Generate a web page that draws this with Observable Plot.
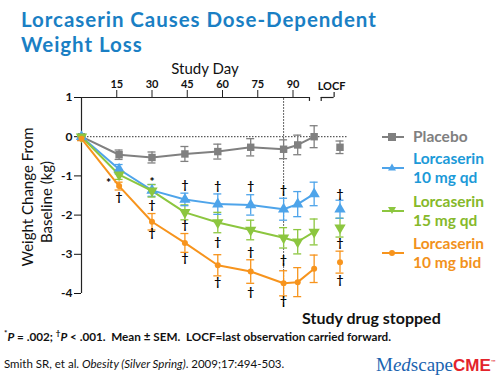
<!DOCTYPE html>
<html><head><meta charset="utf-8">
<script src="https://cdn.jsdelivr.net/npm/d3@7"></script>
<script src="https://cdn.jsdelivr.net/npm/@observablehq/plot@0.6"></script>
<style>
body{margin:0;background:#fff;font-family:Lato,"Open Sans",sans-serif;}
#wrap{position:relative;width:500px;height:375px;overflow:hidden;background:#fff;}
#wrap > div{position:absolute;white-space:nowrap;}
#chart{left:0;top:0;}
.title{left:21px;font-weight:700;font-size:20.5px;letter-spacing:0.95px;color:#1a7fc4;line-height:23px;}
.ylab{font-size:15px;color:#111;transform-origin:center;transform:translate(-50%,-50%) rotate(-90deg);}
.leg{font-weight:700;font-size:15.5px;line-height:19px;}
</style></head><body>
<div id="wrap">
  <div id="chart"></div>
  <div class="title" style="top:8px;">Lorcaserin Causes Dose-Dependent</div>
  <div class="title" style="top:33px;">Weight Loss</div>
  <div style="left:205px;top:68px;transform:translate(-50%,-50%);font-size:15px;color:#111;">Study Day</div>
  <div class="ylab" style="left:27px;top:197px;">Weight Change From</div>
  <div class="ylab" style="left:46px;top:202px;">Baseline (kg)</div>
  <div id="legend" style="left:380px;top:127px;"></div>
  <div style="left:302px;top:308px;font-weight:700;font-size:16px;color:#111;">Study drug stopped</div>
  <div style="left:4px;top:328px;font-weight:700;font-size:11.7px;color:#111;"><sup style="font-size:8px">*</sup><i>P</i> = .002; <sup style="font-size:8px">†</sup><i>P</i> &lt; .001.&nbsp; Mean ± SEM.&nbsp; LOCF=last observation carried forward.</div>
  <div style="left:4px;top:357px;font-size:11.5px;color:#111;">Smith SR, et al. <i>Obesity (Silver Spring)</i>. 2009;17:494-503.</div>
  <div style="left:376px;top:352px;font-size:19px;"><span style="font-family:'Liberation Serif',serif;color:#1a64b0;">M<i>ed</i>scape</span><span style="font-family:'Liberation Sans',sans-serif;font-weight:700;color:#e3232b;font-size:17px;">CME</span><sup style="font-size:6px;color:#e3232b">™</sup></div>
</div>
<script>
// ---- data ----
const seriesNames = ["Placebo", "Lorcaserin 10 mg qd", "Lorcaserin 15 mg qd", "Lorcaserin 10 mg bid"];
const seriesColors = ["#808080", "#4ea4ea", "#8cc63f", "#f7941d"];
const legendTextColors = ["#808080", "#1c9ad8", "#86b92a", "#f2921c"];
const days = [0, 16, 30, 44, 58, 72, 86, 92, 99];
const locfDay = 110;
const xTicks = [15, 30, 45, 60, 75, 90];
const locfLabel = [{x: 106.4, text: "LOCF"}];
const yTicks = [1, 0, -1, -2, -3, -4];

const placeboMean = [0, -0.46, -0.53, -0.44, -0.38, -0.27, -0.32, -0.21, 0.0];
const placeboSem  = [0.04, 0.12, 0.14, 0.19, 0.19, 0.22, 0.24, 0.25, 0.28];
const placeboLocf = [-0.27, 0.16];

const qd10Mean = [0, -0.83, -1.37, -1.6, -1.72, -1.74, -1.85, -1.72, -1.46];
const qd10Sem  = [0.04, 0.12, 0.15, 0.16, 0.26, 0.26, 0.28, 0.32, 0.3];
const qd10Locf = [-1.85, 0.23];

const qd15Mean = [0, -0.97, -1.38, -1.93, -2.19, -2.38, -2.58, -2.68, -2.43];
const qd15Sem  = [0.04, 0.12, 0.16, 0.19, 0.26, 0.25, 0.26, 0.31, 0.33];
const qd15Locf = [-2.32, 0.24];

const bid10Mean = [-0.05, -1.26, -2.17, -2.71, -3.28, -3.44, -3.74, -3.71, -3.37];
const bid10Sem  = [0.05, 0.1, 0.21, 0.24, 0.27, 0.3, 0.32, 0.37, 0.35];
const bid10Locf = [-3.2, 0.28];

// significance annotations: x (day), y (kg), label
const sigX     = [11.5, 16, 30, 30, 30, 44, 44, 44, 58, 58, 58, 72, 72, 72, 86, 86, 86, 110, 110, 110];
const sigY     = [-1.18, -1.54, -1.15, -1.74, -2.47, -1.23, -2.26, -3.1, -1.26, -2.7, -3.72, -1.26, -2.95, -3.97, -1.36, -3.15, -4.2, -1.46, -2.72, -3.67];
const sigLabel = ["*", "†", "*", "†", "†", "†", "†", "†", "†", "†", "†", "†", "†", "†", "†", "†", "†", "†", "†", "†"];
const stopDay = 86;

// ---- build rows ----
const means = [placeboMean, qd10Mean, qd15Mean, bid10Mean];
const sems = [placeboSem, qd10Sem, qd15Sem, bid10Sem];
const locfs = [placeboLocf, qd10Locf, qd15Locf, bid10Locf];
const rows = [];
seriesNames.forEach((s, i) => {
  days.forEach((d, j) => rows.push({series: s, day: d, value: means[i][j], sem: sems[i][j], locf: false}));
  rows.push({series: s, day: locfDay, value: locfs[i][0], sem: locfs[i][1], locf: true});
});
const sig = sigX.map((x, i) => ({x, y: sigY[i], label: sigLabel[i]}));

const sqrt3 = Math.sqrt(3);
const triDown = {draw(ctx, size) {
  const y = Math.sqrt(size / (sqrt3 * 3));
  ctx.moveTo(0, y * 2); ctx.lineTo(-sqrt3 * y, -y); ctx.lineTo(sqrt3 * y, -y); ctx.closePath();
}};
const symbols = ["square", "triangle", triDown, "circle"];
const rVals = [4.2, 4.2, 4.2, 3];

const capHalf = 1.7;
const font = "Lato, 'Open Sans', sans-serif";
const marks = [
  Plot.ruleY([0], {x1: 0, x2: 113, stroke: "#333", strokeDasharray: "1.5,1.5", strokeWidth: 1}),
  Plot.ruleX([stopDay], {y1: -4.35, y2: 1, stroke: "#333", strokeDasharray: "1.5,1.5", strokeWidth: 1}),
  // axes lines
  Plot.ruleX([0], {y1: -4, y2: 1, stroke: "#222", strokeWidth: 1.2}),
  Plot.ruleY([1], {x1: 0, x2: 97, stroke: "#222", strokeWidth: 1.2}),
  Plot.ruleX([97], {y1: 0.9, y2: 1, stroke: "#222", strokeWidth: 1.2}),
  Plot.ruleY([1], {x1: 102, x2: 107.5, stroke: "#222", strokeWidth: 1.2}),
  Plot.ruleX([102], {y1: 0.9, y2: 1, stroke: "#222", strokeWidth: 1.2}),
  Plot.ruleX([107.5], {y1: 1, y2: 1.13, stroke: "#222", strokeWidth: 1.2}),
  Plot.axisX({anchor: "top", ticks: xTicks, tickSize: 8, tickPadding: 2, label: null, fontWeight: "bold", fontSize: 11, stroke: "#222"}),
  Plot.text(locfLabel, {x: "x", y: () => 1, text: "text", dy: -11, fontWeight: "bold", fontSize: 11, fill: "#111"}),
  Plot.axisY({anchor: "left", ticks: yTicks, tickSize: 7, tickPadding: 2, label: null, tickFormat: d => String(d), fontWeight: "bold", fontSize: 12}),
  // error bars
  Plot.ruleX(rows, {x: "day", y1: d => d.value - d.sem, y2: d => d.value + d.sem, stroke: "series", strokeWidth: 1.3}),
  Plot.ruleY(rows, {y: d => d.value + d.sem, x1: d => d.day - capHalf, x2: d => d.day + capHalf, stroke: "series", strokeWidth: 1.3}),
  Plot.ruleY(rows, {y: d => d.value - d.sem, x1: d => d.day - capHalf, x2: d => d.day + capHalf, stroke: "series", strokeWidth: 1.3}),
  // lines
  Plot.line(rows.filter(d => !d.locf), {x: "day", y: "value", z: "series", stroke: "series", strokeWidth: 2}),
  ...seriesNames.map((s, i) => Plot.dot(rows.filter(d => d.series === s), {x: "day", y: "value", fill: seriesColors[i], stroke: "none", symbol: symbols[i], r: rVals[i]})),
  Plot.text(sig, {x: "x", y: "y", text: "label", fontWeight: "bold", fontSize: 12, fill: "#000"})
];

const chart = Plot.plot({
  width: 500, height: 375,
  marginLeft: 81, marginRight: 137, marginTop: 97, marginBottom: 82,
  style: {fontFamily: font, color: "#111", background: "transparent"},
  x: {domain: [0, 120]},
  y: {domain: [-4, 1]},
  color: {domain: seriesNames, range: seriesColors},
  marks
});
document.getElementById("chart").appendChild(chart);

// ---- legend ----
const legendLines = [["Placebo"], ["Lorcaserin", "10 mg qd"], ["Lorcaserin", "15 mg qd"], ["Lorcaserin", "10 mg bid"]];
const legendTops = [0, 22, 65, 107];
const legendShapes = [
  '<rect x="8" y="3" width="8" height="8" fill="C"/>',
  '<path d="M12,2.5 L16,9.5 L8,9.5Z" fill="C"/>',
  '<path d="M12,10 L16,3 L8,3Z" fill="C"/>',
  '<circle cx="12" cy="7" r="3" fill="C"/>'
];
const lg = document.getElementById("legend");
legendLines.forEach((lines, i) => {
  const el = document.createElement("div");
  el.style.cssText = `position:absolute;left:0;top:${legendTops[i]}px;white-space:nowrap;`;
  const midOff = lines.length === 1 ? 3 : 12;
  el.innerHTML = `<svg width="26" height="14" style="position:absolute;left:0;top:${midOff}px"><line x1="2" x2="24" y1="7" y2="7" stroke="${seriesColors[i]}" stroke-width="2"/>${legendShapes[i].replace("C", seriesColors[i])}</svg>` +
    `<div class="leg" style="position:absolute;left:33px;top:0;color:${legendTextColors[i]}">${lines.join("<br>")}</div>`;
  lg.appendChild(el);
});
</script>
</body></html>
